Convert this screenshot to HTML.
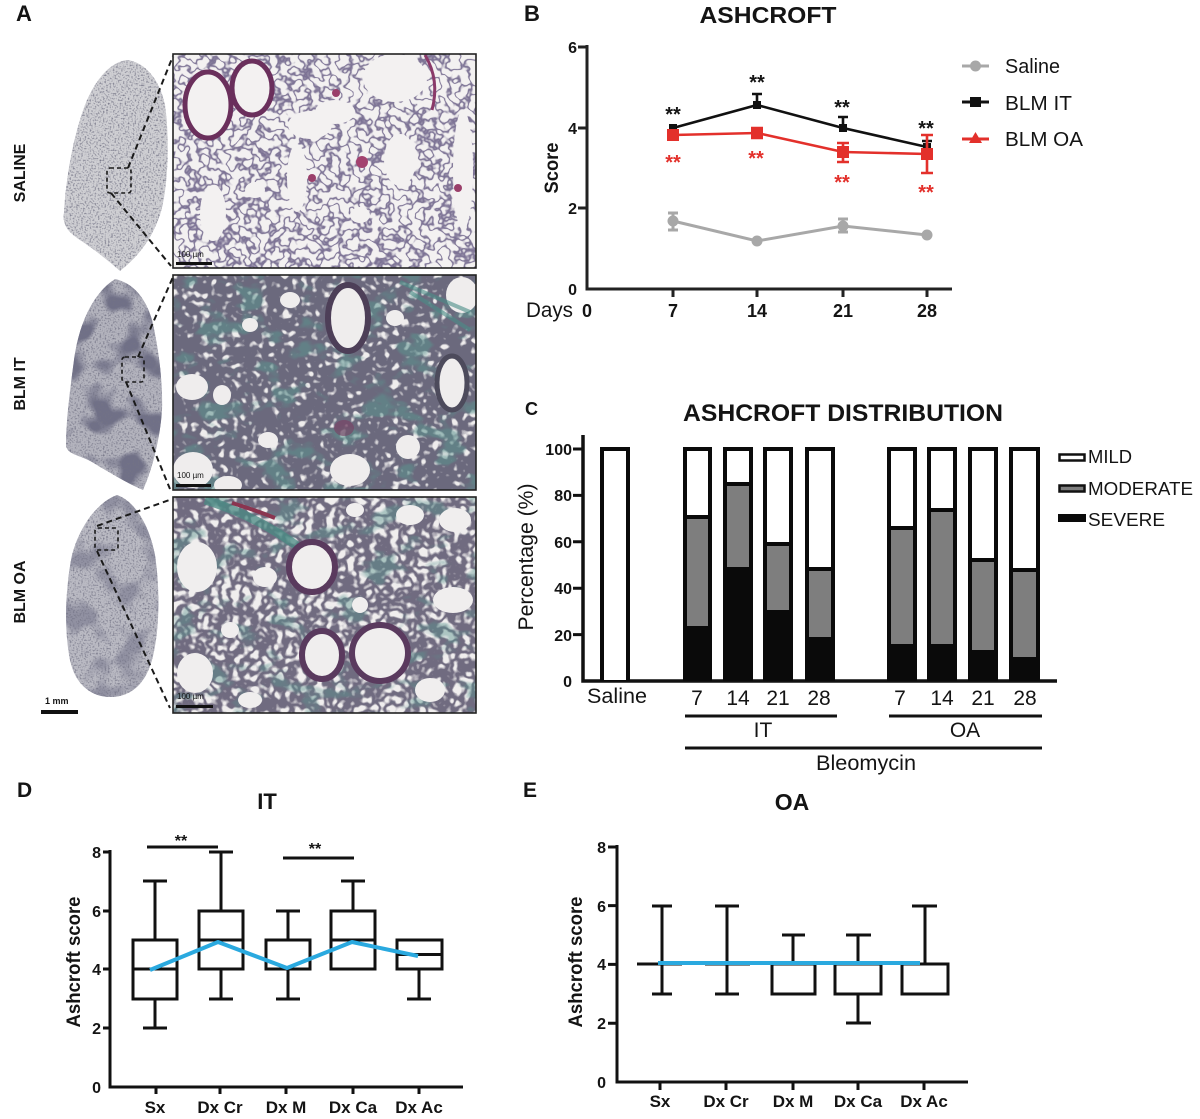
<!DOCTYPE html>
<html><head><meta charset="utf-8"><title>Ashcroft figure</title>
<style>
html,body{margin:0;padding:0;background:#fff;width:1200px;height:1119px;overflow:hidden}
svg{display:block}
text{font-family:"Liberation Sans",Arial,sans-serif;fill:#141414}
</style></head><body>
<svg xmlns="http://www.w3.org/2000/svg" width="1200" height="1119" viewBox="0 0 1200 1119">
<defs>
<filter id="fSal" x="0" y="0" width="1" height="1" color-interpolation-filters="sRGB">
 <feTurbulence type="fractalNoise" baseFrequency="0.1" numOctaves="2" seed="7"/>
 <feColorMatrix type="matrix" values="0 0 0 0 0.47 0 0 0 0 0.43 0 0 0 0 0.57 1 0 0 0 0"/>
 <feComponentTransfer><feFuncA type="table" tableValues="0 0 0 0 0 0 0 0 0 0 0 0 0 0 0.25 0.8 1 0.8 0.25 0 0 0 0 0 0 0 0 0 0 0 0 0 0"/></feComponentTransfer>
</filter>
<filter id="fIT" x="0" y="0" width="1" height="1" color-interpolation-filters="sRGB">
 <feTurbulence type="fractalNoise" baseFrequency="0.1" numOctaves="2" seed="5"/>
 <feColorMatrix type="matrix" values="0 0 0 0 0.42 0 0 0 0 0.41 0 0 0 0 0.49 1 0 0 0 0"/>
 <feComponentTransfer><feFuncA type="table" tableValues="0 0 0 0 0 0.5 1 1 1 1 1 0.5 0 0 0 0 0"/></feComponentTransfer>
</filter>
<filter id="fOA" x="0" y="0" width="1" height="1" color-interpolation-filters="sRGB">
 <feTurbulence type="fractalNoise" baseFrequency="0.095" numOctaves="2" seed="13"/>
 <feColorMatrix type="matrix" values="0 0 0 0 0.44 0 0 0 0 0.42 0 0 0 0 0.50 1 0 0 0 0"/>
 <feComponentTransfer><feFuncA type="table" tableValues="0 0 0 0 0 0 0.5 1 1 1 0.5 0 0 0 0 0 0"/></feComponentTransfer>
</filter>
<filter id="fTeal" x="0" y="0" width="1" height="1" color-interpolation-filters="sRGB">
 <feTurbulence type="fractalNoise" baseFrequency="0.03 0.05" numOctaves="3" seed="9"/>
 <feColorMatrix type="matrix" values="0 0 0 0 0.36 0 0 0 0 0.58 0 0 0 0 0.56 7 0 0 0 -3.8"/>
</filter>
<filter id="fSpk" x="0" y="0" width="1" height="1" color-interpolation-filters="sRGB">
 <feTurbulence type="fractalNoise" baseFrequency="0.6" numOctaves="1" seed="3"/>
 <feColorMatrix type="matrix" values="0 0 0 0 0.45 0 0 0 0 0.45 0 0 0 0 0.52 3 0 0 0 -1.45"/>
</filter>
<filter id="fPatch" x="0" y="0" width="1" height="1" color-interpolation-filters="sRGB">
 <feTurbulence type="fractalNoise" baseFrequency="0.035" numOctaves="2" seed="11"/>
 <feColorMatrix type="matrix" values="0 0 0 0 0.44 0 0 0 0 0.44 0 0 0 0 0.53 5 0 0 0 -2.4"/>
</filter>
<clipPath id="cb1"><rect x="173" y="54" width="303" height="214"/></clipPath>
<clipPath id="cb2"><rect x="173" y="275" width="303" height="215"/></clipPath>
<clipPath id="cb3"><rect x="173" y="497" width="303" height="216"/></clipPath>
<clipPath id="cl1"><path d="M127,60 C145,62 160,80 165,105 C170,140 168,190 160,215 C152,238 140,255 120,271 C110,262 95,250 80,240 C68,232 62,225 64,212 C66,180 72,140 85,105 C95,80 110,62 127,60 Z"/></clipPath>
<clipPath id="cl2"><path d="M115,279 C130,282 145,295 152,320 C158,345 163,380 162,410 C160,440 152,470 143,490 C125,482 105,470 92,462 C80,455 68,455 66,446 C66,420 70,390 74,360 C78,330 90,295 115,279 Z"/></clipPath>
<clipPath id="cl3"><path d="M117,495 C132,500 148,520 155,555 C160,590 160,630 152,660 C145,685 130,697 110,697 C92,697 75,685 70,660 C64,630 65,590 72,555 C80,525 98,502 117,495 Z"/></clipPath>
</defs>

<!-- ================= PANEL A ================= -->
<text x="16" y="21" font-size="22" font-weight="bold">A</text>
<text transform="translate(25,173) rotate(-90)" text-anchor="middle" font-size="16" font-weight="bold">SALINE</text>
<text transform="translate(25,384) rotate(-90)" text-anchor="middle" font-size="16" font-weight="bold">BLM IT</text>
<text transform="translate(25,592) rotate(-90)" text-anchor="middle" font-size="16" font-weight="bold">BLM OA</text>

<g clip-path="url(#cl1)">
 <rect x="55" y="55" width="120" height="222" fill="#cfcfd3"/>
 <rect x="55" y="55" width="120" height="222" filter="url(#fSpk)"/>
</g>
<g clip-path="url(#cl2)">
 <rect x="60" y="275" width="110" height="220" fill="#b3b3bd"/>
 <rect x="60" y="275" width="110" height="220" filter="url(#fPatch)"/>
 <rect x="60" y="275" width="110" height="220" filter="url(#fSpk)"/>
</g>
<g clip-path="url(#cl3)">
 <rect x="60" y="490" width="105" height="212" fill="#babac3"/>
 <rect x="60" y="490" width="105" height="212" filter="url(#fPatch)" opacity="0.55"/>
 <rect x="60" y="490" width="105" height="212" filter="url(#fSpk)"/>
</g>

<g fill="none" stroke="#1a1a1a" stroke-width="1.6" stroke-dasharray="4 3">
 <rect x="107" y="168" width="24" height="25" rx="3"/>
 <rect x="122" y="357" width="22" height="25" rx="3"/>
 <rect x="95" y="528" width="23" height="22" rx="3"/>
</g>
<g fill="none" stroke="#1a1a1a" stroke-width="2" stroke-dasharray="6 4">
 <line x1="128" y1="168" x2="173" y2="56"/>
 <line x1="111" y1="193" x2="171" y2="266"/>
 <line x1="138" y1="357" x2="173" y2="277"/>
 <line x1="126" y1="382" x2="170" y2="489"/>
 <line x1="97" y1="526" x2="172" y2="499"/>
 <line x1="97" y1="551" x2="170" y2="708"/>
</g>
<rect x="41" y="710" width="37" height="4" fill="#111"/>
<text x="45" y="704" font-size="9" font-weight="bold">1 mm</text>

<g clip-path="url(#cb1)">
 <rect x="173" y="54" width="303" height="214" fill="#f3f1f1"/>
 <rect x="173" y="54" width="303" height="214" filter="url(#fSal)"/>
 <g fill="#f3f1f1">
  <ellipse cx="310" cy="125" rx="22" ry="14"/>
  <ellipse cx="335" cy="112" rx="20" ry="12"/>
  <ellipse cx="395" cy="78" rx="32" ry="24"/>
  <ellipse cx="400" cy="160" rx="16" ry="26"/>
  <ellipse cx="297" cy="178" rx="10" ry="34"/>
  <ellipse cx="213" cy="213" rx="13" ry="28"/>
  <ellipse cx="463" cy="170" rx="10" ry="60"/>
  <ellipse cx="255" cy="190" rx="10" ry="8"/>
  <ellipse cx="360" cy="215" rx="10" ry="8"/>
 </g>
 <ellipse cx="208" cy="105" rx="23" ry="33" fill="#f3f1f1" stroke="#6a2f5c" stroke-width="5"/>
 <ellipse cx="252" cy="88" rx="20" ry="27" fill="#f3f1f1" stroke="#6a2f5c" stroke-width="5"/>
 <path d="M425 55 Q440 80 432 110" fill="none" stroke="#8a3a6a" stroke-width="3"/>
 <circle cx="362" cy="162" r="6" fill="#a3426f"/>
 <circle cx="312" cy="178" r="4" fill="#9a3f6a"/>
 <circle cx="458" cy="188" r="4" fill="#9a3f6a"/>
 <circle cx="336" cy="93" r="4" fill="#9a3f6a"/>
 <rect x="176" y="262" width="36" height="3" fill="#111"/>
 <text x="177" y="257" font-size="8">100 µm</text>
</g>
<rect x="173" y="54" width="303" height="214" fill="none" stroke="#222" stroke-width="1.6"/>

<g clip-path="url(#cb2)">
 <rect x="173" y="275" width="303" height="215" fill="#efeded"/>
 <rect x="173" y="275" width="303" height="215" filter="url(#fIT)"/>
 <rect x="173" y="275" width="303" height="215" filter="url(#fTeal)" opacity="0.55"/>
 <g fill="#efeded">
  <ellipse cx="192" cy="387" rx="16" ry="13"/>
  <ellipse cx="193" cy="470" rx="20" ry="18"/>
  <ellipse cx="228" cy="485" rx="14" ry="9"/>
  <ellipse cx="222" cy="395" rx="9" ry="10"/>
  <ellipse cx="350" cy="470" rx="20" ry="16"/>
  <ellipse cx="408" cy="447" rx="12" ry="12"/>
  <ellipse cx="268" cy="440" rx="10" ry="8"/>
  <ellipse cx="290" cy="300" rx="10" ry="8"/>
  <ellipse cx="250" cy="325" rx="8" ry="7"/>
  <ellipse cx="395" cy="318" rx="9" ry="8"/>
  <ellipse cx="462" cy="295" rx="16" ry="18"/>
 </g>
 <ellipse cx="348" cy="318" rx="20" ry="33" fill="#efeded" stroke="#4d3f58" stroke-width="6"/>
 <ellipse cx="452" cy="383" rx="15" ry="27" fill="#efeded" stroke="#4d4b5c" stroke-width="5"/>
 <path d="M400 282 L470 312 M410 292 L470 330" stroke="#4a8d87" stroke-width="4" opacity="0.6"/>
 <ellipse cx="344" cy="428" rx="10" ry="8" fill="#7a3d62" opacity="0.6"/>
 <rect x="176" y="484" width="35" height="3" fill="#111"/>
 <text x="177" y="478" font-size="8">100 µm</text>
</g>
<rect x="173" y="275" width="303" height="215" fill="none" stroke="#222" stroke-width="1.6"/>

<g clip-path="url(#cb3)">
 <rect x="173" y="497" width="303" height="216" fill="#f0eeee"/>
 <rect x="173" y="497" width="303" height="216" filter="url(#fOA)"/>
 <rect x="173" y="497" width="303" height="216" filter="url(#fTeal)" opacity="0.45"/>
 <g fill="#f0eeee">
  <ellipse cx="197" cy="567" rx="20" ry="25"/>
  <ellipse cx="265" cy="577" rx="12" ry="10"/>
  <ellipse cx="195" cy="673" rx="18" ry="20"/>
  <ellipse cx="453" cy="600" rx="20" ry="13"/>
  <ellipse cx="410" cy="515" rx="14" ry="10"/>
  <ellipse cx="455" cy="520" rx="16" ry="12"/>
  <ellipse cx="360" cy="605" rx="8" ry="8"/>
  <ellipse cx="430" cy="690" rx="15" ry="12"/>
  <ellipse cx="250" cy="700" rx="12" ry="8"/>
  <ellipse cx="230" cy="630" rx="9" ry="8"/>
  <ellipse cx="355" cy="510" rx="9" ry="7"/>
 </g>
 <path d="M205 500 Q255 515 300 548" fill="none" stroke="#4a8a83" stroke-width="9" opacity="0.75"/>
 <path d="M232 503 Q255 510 275 518" fill="none" stroke="#8a3550" stroke-width="4"/>
 <ellipse cx="312" cy="567" rx="23" ry="25" fill="#f0eeee" stroke="#5a3a5e" stroke-width="6"/>
 <ellipse cx="322" cy="655" rx="20" ry="24" fill="#f0eeee" stroke="#5a3a5e" stroke-width="6"/>
 <ellipse cx="380" cy="653" rx="28" ry="28" fill="#f0eeee" stroke="#5a3a5e" stroke-width="6"/>
 <rect x="176" y="705" width="37" height="3" fill="#111"/>
 <text x="177" y="699" font-size="8">100 µm</text>
</g>
<rect x="173" y="497" width="303" height="216" fill="none" stroke="#222" stroke-width="1.6"/>

<!-- ================= PANEL B ================= -->
<text x="524" y="21" font-size="22" font-weight="bold">B</text>
<text x="768" y="23" text-anchor="middle" font-size="23" font-weight="bold" textLength="137" lengthAdjust="spacingAndGlyphs">ASHCROFT</text>
<path d="M587 45 V289 H952" fill="none" stroke="#222" stroke-width="3"/>
<path d="M578 47H587 M578 128H587 M578 208H587 M673 289V297 M757 289V297 M843 289V297 M927 289V297" stroke="#222" stroke-width="3"/>
<g font-size="16" font-weight="bold" text-anchor="end">
 <text x="577" y="53">6</text><text x="577" y="134">4</text><text x="577" y="214">2</text><text x="577" y="295">0</text>
</g>
<text x="526" y="317" font-size="21" textLength="47" lengthAdjust="spacingAndGlyphs">Days</text>
<g font-size="18" font-weight="bold" text-anchor="middle">
 <text x="587" y="317">0</text><text x="673" y="317">7</text><text x="757" y="317">14</text><text x="843" y="317">21</text><text x="927" y="317">28</text>
</g>
<text transform="translate(558,168) rotate(-90)" text-anchor="middle" font-size="19" font-weight="bold" textLength="51" lengthAdjust="spacingAndGlyphs">Score</text>

<g stroke="#a8a8a8" stroke-width="3" fill="none">
 <polyline points="673,221 757,241 843,226 927,235"/>
 <path d="M673 213V230 M668 213H678 M668 230H678 M843 219V232 M838 219H848 M838 232H848"/>
</g>
<g fill="#a8a8a8">
 <circle cx="673" cy="221" r="5.5"/><circle cx="757" cy="241" r="5.5"/><circle cx="843" cy="226" r="5.5"/><circle cx="927" cy="235" r="5.5"/>
</g>
<g stroke="#111" stroke-width="2.6" fill="none">
 <polyline points="673,128 757,105 843,128 927,147"/>
 <path d="M757 105V94 M752 94H762 M843 128V117 M838 117H848 M927 147V141 M922 141H932"/>
</g>
<g fill="#111">
 <rect x="669" y="124" width="8" height="8"/><rect x="753" y="101" width="8" height="8"/><rect x="839" y="124" width="8" height="8"/><rect x="923" y="143" width="8" height="8"/>
</g>
<g stroke="#e3302b" stroke-width="2.6" fill="none">
 <polyline points="673,135 757,133 843,152 927,154"/>
 <path d="M673 131V139 M667 131H679 M667 139H679 M757 128V138 M751 128H763 M751 138H763 M843 143V162 M837 143H849 M837 162H849 M927 135V173 M921 135H933 M921 173H933"/>
</g>
<g fill="#e3302b">
 <rect x="667" y="129" width="12" height="12"/><rect x="751" y="127" width="12" height="12"/><rect x="837" y="146" width="12" height="12"/><rect x="921" y="148" width="12" height="12"/>
</g>
<g font-size="20" font-weight="bold" text-anchor="middle">
 <text x="673" y="121">**</text><text x="757" y="89">**</text><text x="842" y="114">**</text><text x="926" y="135">**</text>
 <text x="673" y="169" style="fill:#e3302b">**</text><text x="756" y="165" style="fill:#e3302b">**</text><text x="842" y="189" style="fill:#e3302b">**</text><text x="926" y="199" style="fill:#e3302b">**</text>
</g>
<line x1="962" y1="66" x2="989" y2="66" stroke="#a8a8a8" stroke-width="3"/>
<circle cx="975.5" cy="66" r="5.5" fill="#a8a8a8"/>
<line x1="962" y1="102" x2="989" y2="102" stroke="#111" stroke-width="3"/>
<rect x="970" y="97" width="11" height="10" fill="#111"/>
<line x1="962" y1="139" x2="989" y2="139" stroke="#e3302b" stroke-width="3"/>
<polygon points="975.5,132 982,143 969,143" fill="#e3302b"/>
<g font-size="20">
 <text x="1005" y="73" textLength="55" lengthAdjust="spacingAndGlyphs">Saline</text>
 <text x="1005" y="110" textLength="67" lengthAdjust="spacingAndGlyphs">BLM IT</text>
 <text x="1005" y="146" textLength="78" lengthAdjust="spacingAndGlyphs">BLM OA</text>
</g>

<!-- ================= PANEL C ================= -->
<text x="525" y="415" font-size="18" font-weight="bold">C</text>
<text x="843" y="421" text-anchor="middle" font-size="24" font-weight="bold" textLength="320" lengthAdjust="spacingAndGlyphs">ASHCROFT DISTRIBUTION</text>
<path d="M583 435 V681 H1057" fill="none" stroke="#111" stroke-width="3.5"/>
<path d="M573 449H583 M573 495.4H583 M573 541.8H583 M573 588.2H583 M573 634.6H583" stroke="#111" stroke-width="3"/>
<g font-size="16" font-weight="bold" text-anchor="end">
 <text x="572" y="455">100</text><text x="572" y="501">80</text><text x="572" y="548">60</text><text x="572" y="594">40</text><text x="572" y="641">20</text><text x="572" y="687">0</text>
</g>
<text transform="translate(533,557) rotate(-90)" text-anchor="middle" font-size="21" textLength="147" lengthAdjust="spacingAndGlyphs">Percentage (%)</text>

<g>
 <rect x="600" y="447" width="30" height="234" fill="#0a0a0a"/>
 <rect x="604" y="451" width="22" height="229" fill="#fff"/>

 <rect x="683" y="447" width="29" height="234" fill="#0a0a0a"/>
 <rect x="687" y="451" width="21" height="64" fill="#fff"/>
 <rect x="687" y="519" width="21" height="107" fill="#7e7e7e"/>

 <rect x="723" y="447" width="30" height="234" fill="#0a0a0a"/>
 <rect x="727" y="451" width="22" height="31" fill="#fff"/>
 <rect x="727" y="486" width="22" height="81" fill="#7e7e7e"/>

 <rect x="763" y="447" width="30" height="234" fill="#0a0a0a"/>
 <rect x="767" y="451" width="22" height="91" fill="#fff"/>
 <rect x="767" y="546" width="22" height="64" fill="#7e7e7e"/>

 <rect x="805" y="447" width="30" height="234" fill="#0a0a0a"/>
 <rect x="809" y="451" width="22" height="116" fill="#fff"/>
 <rect x="809" y="571" width="22" height="66" fill="#7e7e7e"/>

 <rect x="887" y="447" width="30" height="234" fill="#0a0a0a"/>
 <rect x="891" y="451" width="22" height="75" fill="#fff"/>
 <rect x="891" y="530" width="22" height="114" fill="#7e7e7e"/>

 <rect x="927" y="447" width="30" height="234" fill="#0a0a0a"/>
 <rect x="931" y="451" width="22" height="57" fill="#fff"/>
 <rect x="931" y="512" width="22" height="132" fill="#7e7e7e"/>

 <rect x="968" y="447" width="30" height="234" fill="#0a0a0a"/>
 <rect x="972" y="451" width="22" height="107" fill="#fff"/>
 <rect x="972" y="562" width="22" height="88" fill="#7e7e7e"/>

 <rect x="1009" y="447" width="31" height="234" fill="#0a0a0a"/>
 <rect x="1013" y="451" width="23" height="117" fill="#fff"/>
 <rect x="1013" y="572" width="23" height="85" fill="#7e7e7e"/>
</g>
<g font-size="21" text-anchor="middle">
 <text x="617" y="703" textLength="60" lengthAdjust="spacingAndGlyphs">Saline</text>
 <text x="697" y="705">7</text><text x="738" y="705">14</text><text x="778" y="705">21</text><text x="819" y="705">28</text>
 <text x="900" y="705">7</text><text x="942" y="705">14</text><text x="983" y="705">21</text><text x="1025" y="705">28</text>
 <text x="763" y="737">IT</text>
 <text x="965" y="737">OA</text>
 <text x="866" y="770" textLength="100" lengthAdjust="spacingAndGlyphs">Bleomycin</text>
</g>
<path d="M685 716H837 M889 716H1042 M685 748H1042" stroke="#111" stroke-width="3"/>
<rect x="1059.5" y="454.5" width="25" height="6" fill="#fff" stroke="#111" stroke-width="2.5"/>
<rect x="1059.5" y="485.5" width="25" height="6" fill="#7e7e7e" stroke="#111" stroke-width="2.5"/>
<rect x="1058" y="514" width="28" height="8" fill="#0a0a0a"/>
<g font-size="18.5">
 <text x="1088" y="463" textLength="44" lengthAdjust="spacingAndGlyphs">MILD</text>
 <text x="1088" y="495" textLength="105" lengthAdjust="spacingAndGlyphs">MODERATE</text>
 <text x="1088" y="526" textLength="77" lengthAdjust="spacingAndGlyphs">SEVERE</text>
</g>

<!-- ================= PANEL D ================= -->
<text x="17" y="797" font-size="21" font-weight="bold">D</text>
<text x="267" y="809" text-anchor="middle" font-size="22" font-weight="bold">IT</text>
<path d="M110 850 V1087 H463" fill="none" stroke="#111" stroke-width="3"/>
<path d="M103 852H110 M103 911H110 M103 969H110 M103 1028H110 M156 1087V1094 M220 1087V1094 M286 1087V1094 M353 1087V1094 M419 1087V1094" stroke="#111" stroke-width="3"/>
<g font-size="16" font-weight="bold" text-anchor="end">
 <text x="101" y="858">8</text><text x="101" y="917">6</text><text x="101" y="975">4</text><text x="101" y="1034">2</text><text x="101" y="1093">0</text>
</g>
<text transform="translate(80,962) rotate(-90)" text-anchor="middle" font-size="19" font-weight="bold" textLength="131" lengthAdjust="spacingAndGlyphs">Ashcroft score</text>
<g fill="none" stroke="#111" stroke-width="3">
 <rect x="133" y="940" width="44" height="59"/>
 <path d="M133 969H177 M155 940V881 M155 999V1028 M143 881H167 M143 1028H167"/>
 <rect x="199" y="911" width="44" height="58"/>
 <path d="M199 940H243 M221 911V852 M221 969V999 M209 852H233 M209 999H233"/>
 <rect x="266" y="940" width="44" height="29"/>
 <path d="M288 940V911 M288 969V999 M276 911H300 M276 999H300"/>
 <rect x="331" y="911" width="44" height="58"/>
 <path d="M331 940H375 M353 911V881 M341 881H365"/>
 <rect x="397" y="940" width="45" height="29"/>
 <path d="M397 954.5H442 M419 969V999 M407 999H431"/>
 <path d="M147 847H218 M283 858H354"/>
</g>
<polyline points="150,970 218,942 287,968 352,942 418,956" fill="none" stroke="#2aa9df" stroke-width="4" stroke-linejoin="round"/>
<g font-size="16" font-weight="bold" text-anchor="middle">
 <text x="181" y="846">**</text><text x="315" y="854">**</text>
</g>
<g font-size="17" font-weight="bold" text-anchor="middle">
 <text x="155" y="1113">Sx</text><text x="220" y="1113">Dx Cr</text><text x="286" y="1113">Dx M</text><text x="353" y="1113">Dx Ca</text><text x="419" y="1113">Dx Ac</text>
</g>

<!-- ================= PANEL E ================= -->
<text x="523" y="797" font-size="21" font-weight="bold">E</text>
<text x="792" y="810" text-anchor="middle" font-size="23" font-weight="bold">OA</text>
<path d="M617 845 V1082 H968" fill="none" stroke="#111" stroke-width="3"/>
<path d="M608 847H617 M608 905.6H617 M608 964.4H617 M608 1023.2H617 M660 1082V1090 M726 1082V1090 M793 1082V1090 M858 1082V1090 M924 1082V1090" stroke="#111" stroke-width="3"/>
<g font-size="16" font-weight="bold" text-anchor="end">
 <text x="606" y="853">8</text><text x="606" y="912">6</text><text x="606" y="970">4</text><text x="606" y="1029">2</text><text x="606" y="1088">0</text>
</g>
<text transform="translate(582,962) rotate(-90)" text-anchor="middle" font-size="19" font-weight="bold" textLength="131" lengthAdjust="spacingAndGlyphs">Ashcroft score</text>
<g fill="none" stroke="#111" stroke-width="3">
 <path d="M637 964H682 M662 906V994 M652 906H672 M652 994H672"/>
 <path d="M705 964H750 M727 906V994 M715 906H739 M715 994H739"/>
 <rect x="772" y="964" width="43" height="30"/>
 <path d="M793 964V935 M782 935H805"/>
 <rect x="835" y="964" width="46" height="30"/>
 <path d="M858 964V935 M846 935H871 M858 994V1023 M846 1023H871"/>
 <rect x="902" y="964" width="46" height="30"/>
 <path d="M925 964V906 M912 906H937"/>
</g>
<line x1="658" y1="963" x2="920" y2="963" stroke="#2aa9df" stroke-width="4"/>
<g font-size="17" font-weight="bold" text-anchor="middle">
 <text x="660" y="1107">Sx</text><text x="726" y="1107">Dx Cr</text><text x="793" y="1107">Dx M</text><text x="858" y="1107">Dx Ca</text><text x="924" y="1107">Dx Ac</text>
</g>
</svg>
</body></html>
